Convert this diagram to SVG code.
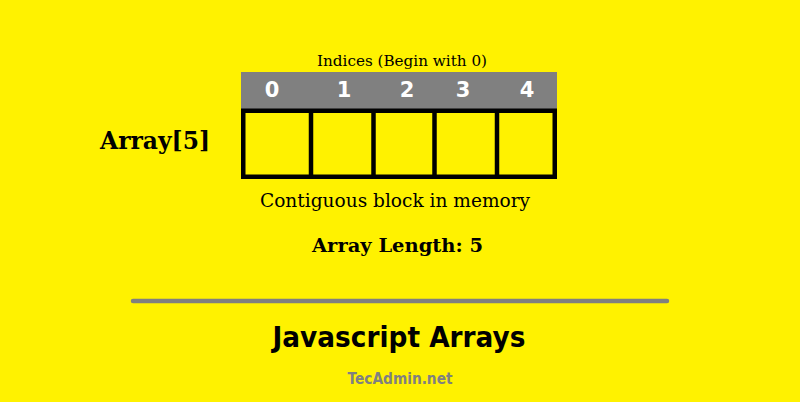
<svg xmlns="http://www.w3.org/2000/svg" width="800" height="402" viewBox="0 0 800 402">
<style>
.serif{font-family:"DejaVu Serif","Liberation Serif",serif;fill:#000}
.idx{font-family:"DejaVu Sans","Liberation Sans",sans-serif;font-weight:bold;font-size:21px;fill:#fff;text-anchor:middle}
.cell{fill:none;stroke:#000;stroke-width:4.5}
.comic{font-family:"DejaVu Sans","Liberation Sans",sans-serif;text-anchor:middle}
</style>
<rect x="0" y="0" width="800" height="402" fill="#FFF200"/>
<g id="indices-label">
<text class="serif" x="402" y="66" font-size="15" text-anchor="middle" textLength="170" lengthAdjust="spacingAndGlyphs">Indices (Begin with 0)</text>
</g>
<g id="index-header">
<rect x="241" y="72" width="316" height="37" fill="#808080"/>
<text class="idx" x="272" y="97">0</text>
<text class="idx" x="344" y="97">1</text>
<text class="idx" x="407" y="97">2</text>
<text class="idx" x="463" y="97">3</text>
<text class="idx" x="527" y="97">4</text>
</g>
<g id="array-cells">
<rect class="cell" x="243.25" y="110.75" width="311.5" height="66"/>
<line class="cell" x1="311" y1="110" x2="311" y2="177"/>
<line class="cell" x1="373.5" y1="110" x2="373.5" y2="177"/>
<line class="cell" x1="434.5" y1="110" x2="434.5" y2="177"/>
<line class="cell" x1="497" y1="110" x2="497" y2="177"/>
</g>
<g id="array-name">
<text class="serif" x="100" y="149" font-size="24" font-weight="bold" textLength="110" lengthAdjust="spacingAndGlyphs">Array[5]</text>
</g>
<g id="memory-label">
<text class="serif" x="260" y="207" font-size="18" textLength="270" lengthAdjust="spacingAndGlyphs">Contiguous block in memory</text>
</g>
<g id="length-label">
<text class="serif" x="312" y="252" font-size="19" font-weight="bold" textLength="171" lengthAdjust="spacingAndGlyphs">Array Length: 5</text>
</g>
<g id="connectors">
<line x1="133" y1="301" x2="667" y2="301" stroke="#808080" stroke-width="4.5" stroke-linecap="round"/>
</g>
<g id="title">
<text class="comic" x="399" y="347" font-size="29" font-weight="bold" fill="#000" textLength="253" lengthAdjust="spacingAndGlyphs">Javascript Arrays</text>
</g>
<g id="watermark">
<text class="comic" x="400" y="384" font-size="16" font-weight="bold" fill="#808080" textLength="105" lengthAdjust="spacingAndGlyphs">TecAdmin.net</text>
</g>
</svg>
